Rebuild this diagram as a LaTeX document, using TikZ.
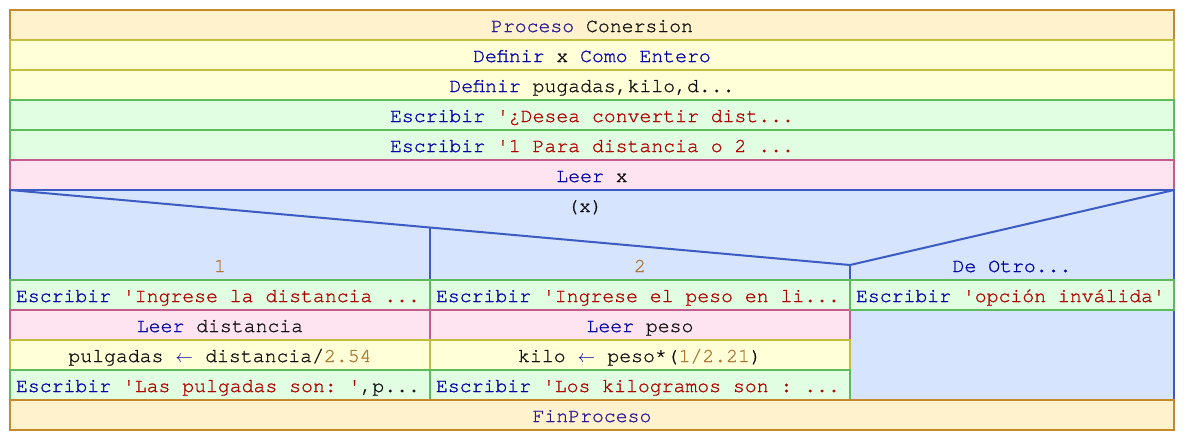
\documentclass[tikz,border=0pt]{standalone}
\usepackage{fontspec}
\setmonofont{texgyrecursor-regular.otf}[FakeBold=1]
\definecolor{procfill}{HTML}{FFF2CC}
\definecolor{procline}{HTML}{C8892A}
\definecolor{deffill}{HTML}{FFFFD8}
\definecolor{defline}{HTML}{C4BC3C}
\definecolor{wrfill}{HTML}{E2FEE2}
\definecolor{wrline}{HTML}{5CBC5C}
\definecolor{rdfill}{HTML}{FDE4F0}
\definecolor{rdline}{HTML}{C45C8C}
\definecolor{swfill}{HTML}{D6E4FD}
\definecolor{swline}{HTML}{3C5CC4}
\definecolor{kwc}{HTML}{0000A8}
\definecolor{prc}{HTML}{2A1A98}
\definecolor{stc}{HTML}{B00000}
\definecolor{nmc}{HTML}{B07838}
\definecolor{txc}{HTML}{101010}
\newcommand{\kw}[1]{\textcolor{kwc}{#1}}
\newcommand{\pk}[1]{\textcolor{prc}{#1}}
\newcommand{\st}[1]{\textcolor{stc}{#1}}
\newcommand{\nm}[1]{\textcolor{nmc}{#1}}
\newcommand{\myarrow}{\makebox[18pt]{\textcolor{kwc}{\fontsize{19}{22}\selectfont$\leftarrow$}}}
\begin{document}
\begin{tikzpicture}[x=1pt,y=-1pt,
  every path/.style={line width=2pt},
  procbox/.style={fill=procfill,draw=procline},
  defbox/.style={fill=deffill,draw=defline},
  wrbox/.style={fill=wrfill,draw=wrline},
  rdbox/.style={fill=rdfill,draw=rdline},
  swbox/.style={fill=swfill,draw=swline},
  swl/.style={draw=swline},
  txt/.style={anchor=base,inner sep=0pt,text=txc,font=\ttfamily\fontsize{19.8}{24}\selectfont},
  ltxt/.style={txt,anchor=base west}]
\useasboundingbox (0,0) rectangle (1184,440);
% top rows
\path[procbox] (10,10) rectangle (1174,40);
\node[txt] (t1) at (592,32) {\pk{Proceso} Conersion};
\path[defbox] (10,40) rectangle (1174,70);
\node[txt] (t2) at (592,62) {\kw{Definir} x \kw{Como} \kw{Entero}};
\path[defbox] (10,70) rectangle (1174,100);
\node[txt] (t3) at (592,92) {\kw{Definir} pugadas,kilo,d...};
\path[wrbox] (10,100) rectangle (1174,130);
\node[txt] (t4) at (592,122) {\kw{Escribir} \st{'¿Desea convertir dist...}};
\path[wrbox] (10,130) rectangle (1174,160);
\node[txt] (t5) at (592,152) {\kw{Escribir} \st{'1 Para distancia o 2 ...}};
\path[rdbox] (10,160) rectangle (1174,190);
\node[txt] (t6) at (592,182) {\kw{Leer} x};
% switch
\path[swbox] (10,190) rectangle (1174,400);
\draw[swl] (10,190) -- (850,265) -- (1174,190);
\draw[swl] (430,227.5) -- (430,280);
\draw[swl] (850,265) -- (850,280);
\node[txt] (sx) at (585,212) {(x)};
\node[txt] (c1) at (220,272) {\nm{1}};
\node[txt] (c2) at (640,272) {\nm{2}};
\node[txt] (c3) at (1012,272) {\kw{De Otro...}};
% column 1
\path[wrbox] (10,280) rectangle (430,310);
\node[ltxt] (a1) at (15,302) {\kw{Escribir} \st{'Ingrese la distancia ...}};
\path[rdbox] (10,310) rectangle (430,340);
\node[txt] (a2) at (220,332) {\kw{Leer} distancia};
\path[defbox] (10,340) rectangle (430,370);
\node[txt] (a3) at (220,362) {pulgadas \myarrow{} distancia/\nm{2.54}};
\path[wrbox] (10,370) rectangle (430,400);
\node[ltxt] (a4) at (15,392) {\kw{Escribir} \st{'Las pulgadas son: '},p...};
% column 2
\path[wrbox] (430,280) rectangle (850,310);
\node[ltxt] (b1) at (435,302) {\kw{Escribir} \st{'Ingrese el peso en li...}};
\path[rdbox] (430,310) rectangle (850,340);
\node[txt] (b2) at (640,332) {\kw{Leer} peso};
\path[defbox] (430,340) rectangle (850,370);
\node[txt] (b3) at (640,362) {kilo \myarrow{} peso*(\nm{1/2.21})};
\path[wrbox] (430,370) rectangle (850,400);
\node[ltxt] (b4) at (435,392) {\kw{Escribir} \st{'Los kilogramos son : ...}};
% column 3
\path[wrbox] (850,280) rectangle (1174,310);
\node[ltxt] (d1) at (855,302) {\kw{Escribir} \st{'opción inválida'}};
% end
\path[procbox] (10,400) rectangle (1174,430);
\node[txt] (t7) at (592,422) {\pk{FinProceso}};
\end{tikzpicture}
\end{document}
